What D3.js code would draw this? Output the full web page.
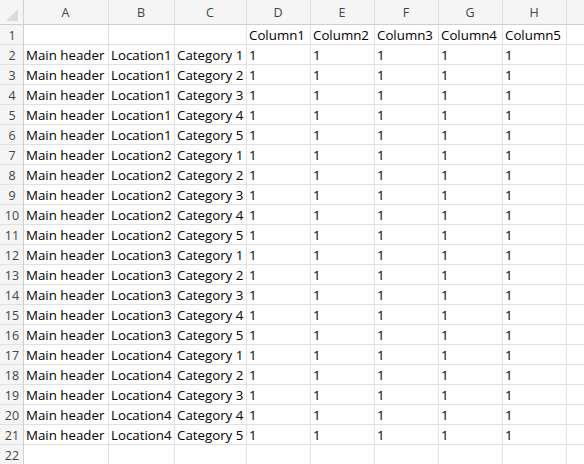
<!DOCTYPE html>
<html><head><meta charset="utf-8">
<script src="https://cdn.jsdelivr.net/npm/d3@7"></script>
<style>body{margin:0;background:#fff}</style>
</head><body><svg id="c" width="584" height="464"></svg>
<script>
const colLetters = ["A","B","C","D","E","F","G","H"];
const colHeaders = ["","","","Column1","Column2","Column3","Column4","Column5"];
const locations = ["Location1","Location2","Location3","Location4"];
const categories = ["Category 1","Category 2","Category 3","Category 4","Category 5"];
const values = [1,1,1,1,1];
const colEdges = [23,108,174,246,310,374,438,502,566,650];
const headerH = 25, rowH = 20, nRows = 22;

const rows = [colHeaders];
locations.forEach(l => categories.forEach(c => rows.push(["Main header", l, c, ...values.map(String)])));
rows.push(["","","","","","","",""]);

const svg = d3.select("#c");
const font = "'Open Sans', 'Noto Sans', sans-serif";
const y = d3.scaleLinear().domain([0, 1]).range([headerH, headerH + rowH]);

svg.append("rect").attr("width",584).attr("height",headerH).attr("fill","#f5f5f5");
svg.append("rect").attr("width",23).attr("height",464).attr("fill","#f5f5f5");
svg.append("path").attr("d","M18,9 L18,21 L6,21 Z").attr("fill","#dcdcdc");

// grid
const g = svg.append("g").attr("stroke","#e1e1e1").attr("stroke-width",1);
colEdges.forEach(x => g.append("line").attr("x1",x+0.5).attr("x2",x+0.5).attr("y1",0).attr("y2",464));
d3.range(nRows+1).forEach(i => g.append("line").attr("x1",0).attr("x2",584).attr("y1",y(i)-0.5).attr("y2",y(i)-0.5));
svg.append("line").attr("x1",0).attr("x2",584).attr("y1",headerH-0.5).attr("y2",headerH-0.5).attr("stroke","#cfcfcf");
svg.append("line").attr("x1",23.5).attr("x2",23.5).attr("y1",0).attr("y2",464).attr("stroke","#cfcfcf");

// column letters
colLetters.forEach((L,i) => svg.append("text").attr("x",(colEdges[i]+colEdges[i+1])/2).attr("y",17)
  .attr("text-anchor","middle").attr("font-family",font).attr("font-size",12.5).attr("fill","#444").text(L));
// row numbers
d3.range(nRows).forEach(i => svg.append("text").attr("x",12).attr("y",y(i)+15)
  .attr("text-anchor","middle").attr("font-family",font).attr("font-size",12.5).attr("fill","#444").text(i+1));
// cells
rows.forEach((r,i) => r.forEach((t,j) => { if(!t) return;
  svg.append("text").attr("x",colEdges[j]+3).attr("y",y(i)+15).attr("font-family",font)
    .attr("font-size",13.3).attr("fill","#000").text(t); }));
</script></body></html>
